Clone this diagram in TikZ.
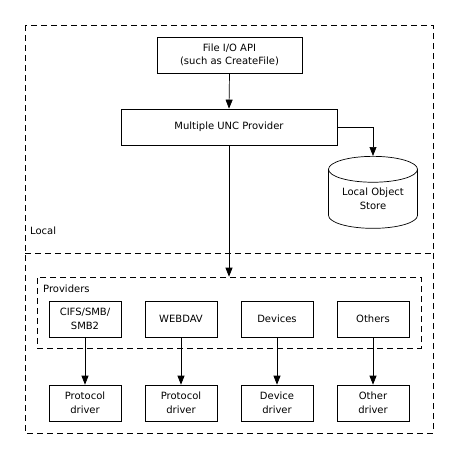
\documentclass[tikz,border=0pt]{standalone}
\usepackage{fontspec}
\setmainfont{DejaVu Sans}
\usepackage{tikz}
\usetikzlibrary{positioning, arrows.meta, shapes.geometric}
\tikzset{
  box/.style={draw, line width=0.7pt, minimum width=72pt, minimum height=36pt, inner sep=1pt, align=center, font=\fontsize{10}{13.5}\selectfont},
  zone/.style={draw, line width=0.7pt, dash pattern=on 6pt off 4pt},
  link/.style={-{Triangle[length=9pt,width=7pt]}, line width=0.7pt},
}

\begin{document}
\begin{tikzpicture}[x=1pt, y=-1pt]
\useasboundingbox (0,0) rectangle (458,458);
% local / remote areas
\draw[zone] (25,25) rectangle (433,433);
\draw[zone] (25,253) -- (433,253);
\node[anchor=west, inner sep=0pt, font=\fontsize{10}{12}\selectfont] (locallbl) at (30,231) {Local};

\node[box, minimum width=145pt] (fileapi) at (229.5,55) {File I/O API\\(such as CreateFile)};
\node[box, minimum width=216pt] (unc) at (229,127) {Multiple UNC Provider};
\node[draw, line width=0.7pt, cylinder, shape border rotate=90, aspect=0.42, minimum width=89pt, minimum height=72pt, inner sep=0pt, align=center, font=\fontsize{10}{13.5}\selectfont] (store) at (373,199) {Local Object\\Store};

\node[zone, minimum width=384pt, minimum height=71pt, inner sep=0pt] (providers) at (229,312.5) {};
\node[anchor=west, inner sep=0pt, font=\fontsize{10}{12}\selectfont] (provlbl) at (43,289) {Providers};

\foreach \i/\txt in {0/{CIFS/SMB/\\SMB2}, 1/WEBDAV, 2/Devices, 3/Others} {
  \node[box] (prov\i) at (85+\i*96,319) {\txt};
}
\foreach \i/\txt in {0/{Protocol\\driver}, 1/{Protocol\\driver}, 2/{Device\\driver}, 3/{Other\\driver}} {
  \node[box] (drv\i) at (85+\i*96,403) {\txt};
}
\foreach \i in {0,1,2,3} {
  \draw[link] (prov\i.south) -- (drv\i.north);
}

\draw[link] (fileapi.south) -- (unc.north);
\draw[link] (unc.east) -| (store.north);
\draw[link] (unc.south) -- (providers.north);
\end{tikzpicture}
\end{document}
